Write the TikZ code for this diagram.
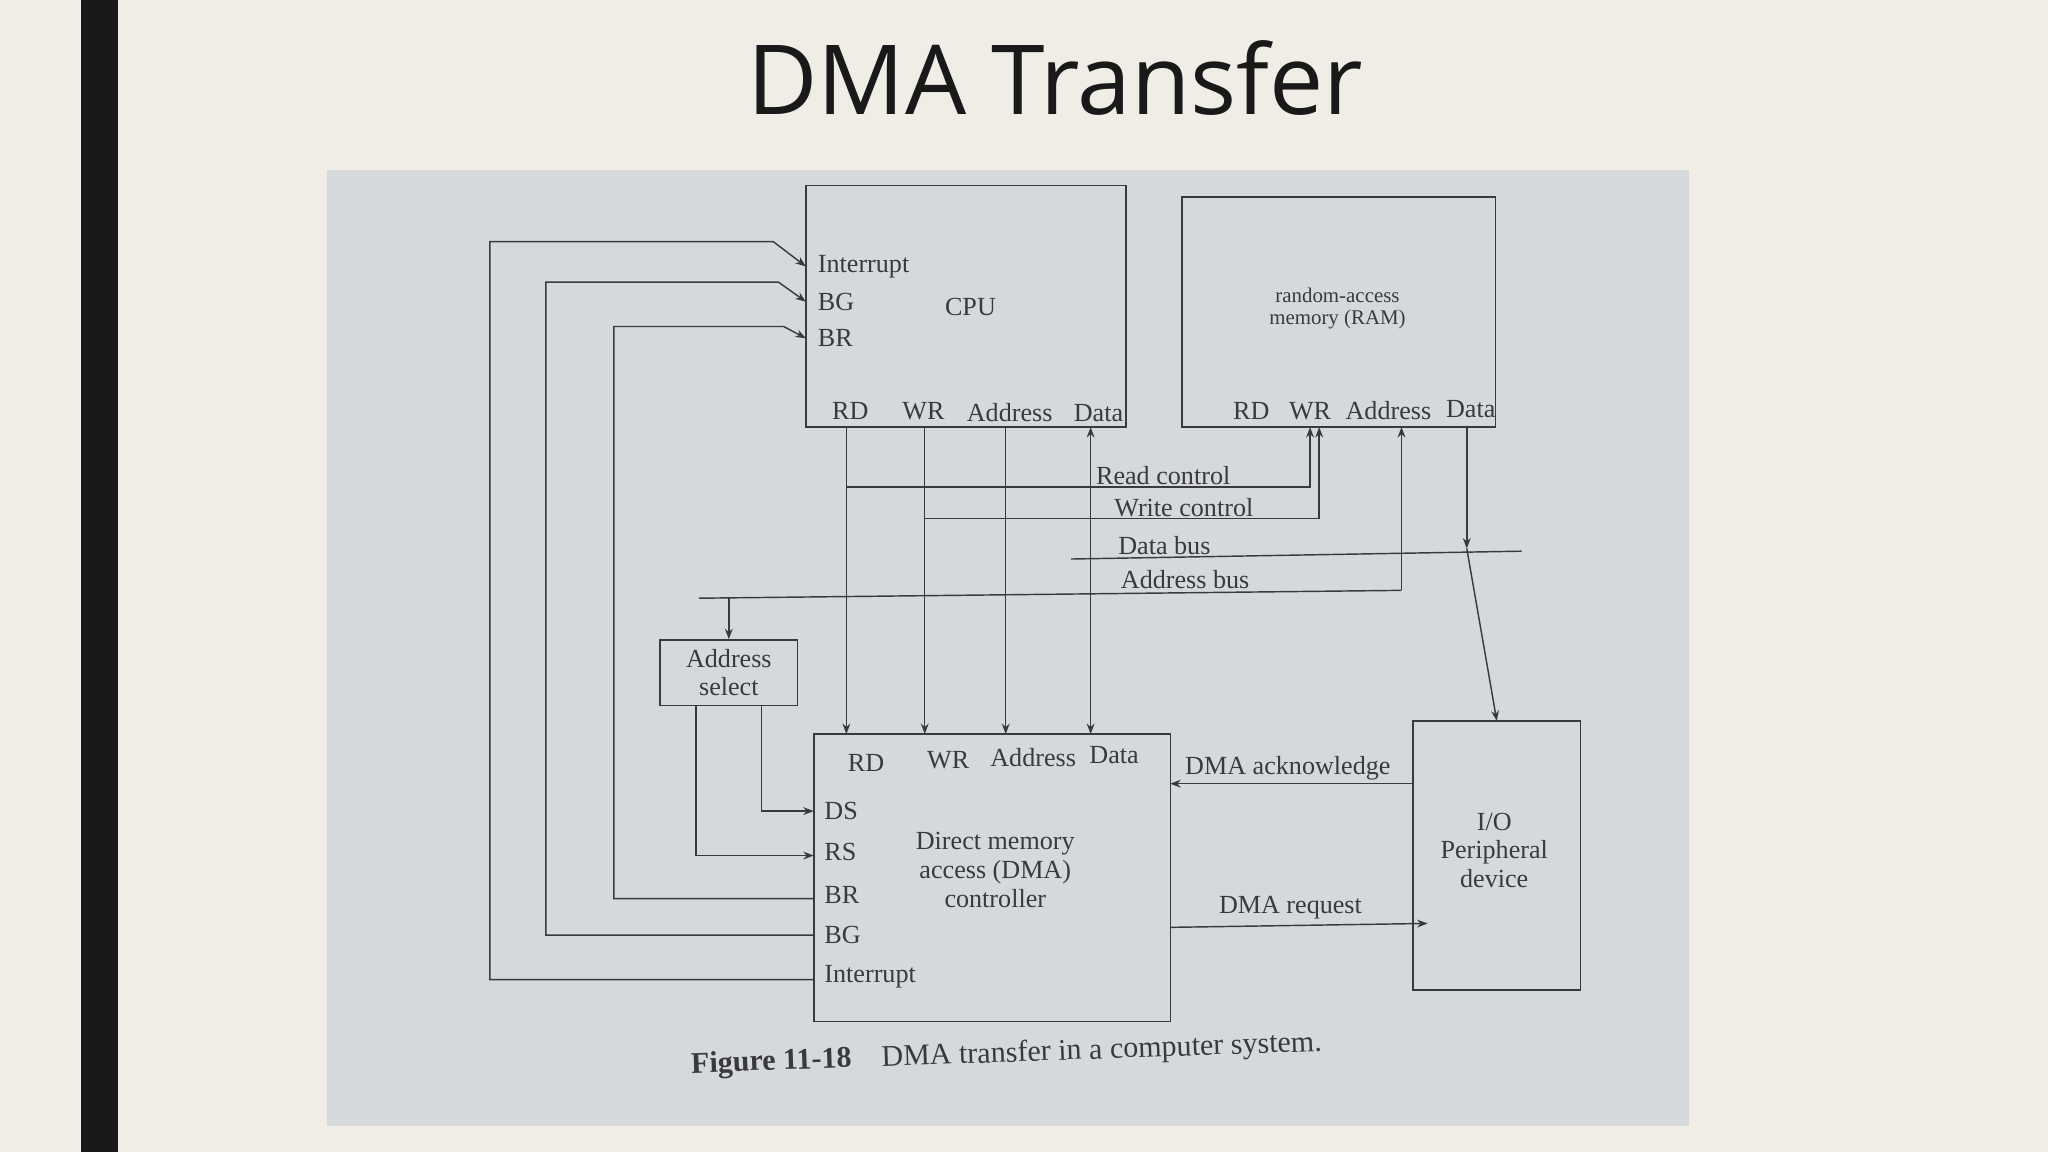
\documentclass[tikz,border=0pt]{standalone}
\usepackage{fontspec}
\setmainfont{Liberation Serif}
\newfontfamily\titlefont{Open Sans}
\usetikzlibrary{arrows.meta}
\definecolor{bg}{HTML}{EFEDE6}
\definecolor{photo}{HTML}{D6D9DC}
\definecolor{ink}{HTML}{3A3A3C}
\begin{document}
\begin{tikzpicture}[x=1pt,y=-1pt,
  box/.style={draw=ink,line width=1.2pt},
  wire/.style={draw=ink,line width=1.1pt},
  arr/.style={wire,-{Stealth[length=8pt,width=6pt]}},
  lbl/.style={text=ink,font=\fontsize{20}{22}\selectfont,inner sep=1pt},
  blbl/.style={text=ink,font=\fontsize{20}{22}\selectfont,align=center,inner sep=1pt}]
\useasboundingbox (0,0) rectangle (1568,882);
\fill[bg] (0,0) rectangle (1568,882);
\fill[black!90] (62,0) rectangle (90,882);
\node[font=\titlefont\fontsize{74}{80}\selectfont,text=black!90] (title) at (808,60) {DMA Transfer};
\fill[photo] (250,130) rectangle (1293,862);
% boxes
\draw[box] (617,142) rectangle (862,327);
\draw[box] (905,151) rectangle (1145,327);
\draw[box] (623,562) rectangle (896,782);
\draw[box] (1082,552) rectangle (1210,758);
\node[box,blbl,minimum width=105pt,minimum height=50pt] (asel) at (558,515) {Address\\select};
% CPU labels
\node[lbl,anchor=west] (cInt) at (625,204) {Interrupt};
\node[lbl,anchor=west] (cBG) at (625,231) {BG};
\node[lbl,anchor=west] (cBR) at (625,259) {BR};
\node[lbl] (cpu) at (743,235) {CPU};
\node[lbl] (cRD) at (651,315) {RD};
\node[lbl] (cWR) at (707,315) {WR};
\node[lbl] (cAd) at (773,316) {Address};
\node[lbl] (cDa) at (841,316) {Data};
% RAM labels
\node[blbl,font=\fontsize{16}{17}\selectfont] (ram) at (1024,236) {random-access\\memory (RAM)};
\node[lbl] (rRD) at (958,315) {RD};
\node[lbl] (rWR) at (1003,315) {WR};
\node[lbl] (rAd) at (1063,314) {Address};
\node[lbl] (rDa) at (1126,313) {Data};
% DMA labels
\node[lbl] (dRD) at (663,584) {RD};
\node[lbl] (dWR) at (726,582) {WR};
\node[lbl] (dAd) at (791,580) {Address};
\node[lbl] (dDa) at (853,578) {Data};
\node[lbl,anchor=west] (dDS) at (630,621) {DS};
\node[lbl,anchor=west] (dRS) at (630,652) {RS};
\node[lbl,anchor=west] (dBR) at (630,685) {BR};
\node[lbl,anchor=west] (dBG) at (630,716) {BG};
\node[lbl,anchor=west] (dInt) at (630,748) {Interrupt};
\node[blbl] (dma) at (762,666) {Direct memory\\access (DMA)\\controller};
% IO
\node[blbl] (io) at (1144,651) {I/O\\Peripheral\\device};
% bus labels
\node[lbl,anchor=west] (rc) at (838,364) {Read control};
\node[lbl,anchor=west] (wc) at (852,389) {Write control};
\node[lbl,anchor=west] (db) at (855,418) {Data bus};
\node[lbl,anchor=west] (ab) at (857,444) {Address bus};
\node[lbl] (ack) at (986,588) {DMA acknowledge};
\node[lbl] (req) at (988,695) {DMA request};
% coordinates
\coordinate (cpuL1) at (617,204);
\coordinate (cpuL2) at (617,231);
\coordinate (cpuL3) at (617,259);
\coordinate (dmaL1) at (623,621);
\coordinate (dmaL2) at (623,655);
\coordinate (dmaL3) at (623,688);
\coordinate (dmaL4) at (623,716);
\coordinate (dmaL5) at (623,750);
% CPU <-> DMA control
\draw[arr] (dmaL5) -- (375,750) -- (375,185) -- (592,185) -- (cpuL1);
\draw[arr] (dmaL4) -- (418,716) -- (418,216) -- (596,216) -- (cpuL2);
\draw[arr] (dmaL3) -- (470,688) -- (470,250) -- (600,250) -- (cpuL3);
% address select
\draw[arr] (asel.south -| 533,0) -- (533,655) -- (dmaL2);
\draw[arr] (asel.south -| 583,0) -- (583,621) -- (dmaL1);
% vertical buses
\draw[arr] (648,327) -- (648,562);
\draw[arr] (708,327) -- (708,562);
\draw[arr] (770,327) -- (770,562);
\draw[wire,{Stealth[length=8pt,width=6pt]}-{Stealth[length=8pt,width=6pt]}] (835,327) -- (835,562);
% read/write control
\draw[arr] (648,373) -- (1003,373) -- (1003,327);
\draw[arr] (708,397) -- (1010,397) -- (1010,327);
% data bus
\draw[wire] (820,428) -- (1165,422);
\draw[arr] (1123,327) -- (1123,420);
% address bus
\draw[wire] (535,458) -- (1073,452);
\draw[arr] (1073,452) -- (1073,327);
\draw[arr] (558,458) -- (asel.north);
% RAM data to IO
\draw[arr] (1123,420) -- (1146,552);
% DMA <-> IO
\draw[arr] (1082,600) -- (896,600);
\draw[arr] (896,710) -- (1093,707);
% caption
\node[lbl,anchor=west,font=\fontsize{23}{23}\selectfont,rotate=2] (cap) at (528,816) {\textbf{Figure 11-18}\quad DMA transfer in a computer system.};
\end{tikzpicture}
\end{document}
